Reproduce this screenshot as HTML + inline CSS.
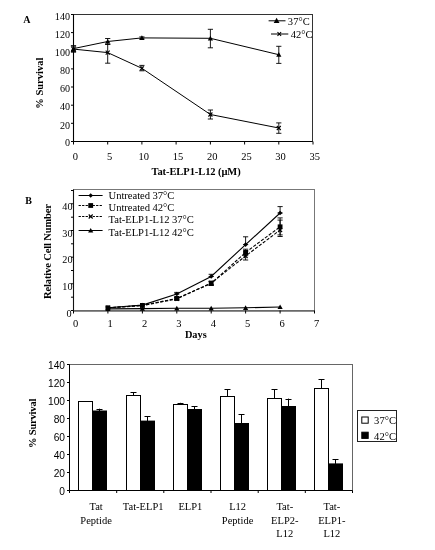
<!DOCTYPE html>
<html><head><meta charset="utf-8"><title>Figure</title>
<style>html,body{margin:0;padding:0;background:#fff}svg{display:block}text{fill:#000}.se{font-family:"Liberation Serif",serif}.sa{font-family:"Liberation Sans",sans-serif}</style>
</head><body>
<svg width="435" height="550" viewBox="0 0 435 550">
<rect width="435" height="550" fill="#fff"/>
<rect x="73.5" y="14.5" width="239.0" height="127.0" fill="none" stroke="#333" stroke-width="1"/>
<line x1="73.5" y1="14.5" x2="73.5" y2="141.5" stroke="#000" stroke-width="1.1"/>
<line x1="73.5" y1="141.5" x2="312.5" y2="141.5" stroke="#000" stroke-width="1.1"/>
<line x1="71.0" y1="141.5" x2="73.5" y2="141.5" stroke="#000" stroke-width="1"/>
 <text x="70.0" y="146.1" font-size="10.1" text-anchor="end" class="se">0</text>
<line x1="71.0" y1="123.3" x2="73.5" y2="123.3" stroke="#000" stroke-width="1"/>
 <text x="70.0" y="128.5" font-size="10.1" text-anchor="end" class="se">20</text>
<line x1="71.0" y1="105.2" x2="73.5" y2="105.2" stroke="#000" stroke-width="1"/>
 <text x="70.0" y="110.4" font-size="10.1" text-anchor="end" class="se">40</text>
<line x1="71.0" y1="87.0" x2="73.5" y2="87.0" stroke="#000" stroke-width="1"/>
 <text x="70.0" y="92.2" font-size="10.1" text-anchor="end" class="se">60</text>
<line x1="71.0" y1="68.9" x2="73.5" y2="68.9" stroke="#000" stroke-width="1"/>
 <text x="70.0" y="74.1" font-size="10.1" text-anchor="end" class="se">80</text>
<line x1="71.0" y1="50.8" x2="73.5" y2="50.8" stroke="#000" stroke-width="1"/>
 <text x="70.0" y="56.0" font-size="10.1" text-anchor="end" class="se">100</text>
<line x1="71.0" y1="32.6" x2="73.5" y2="32.6" stroke="#000" stroke-width="1"/>
 <text x="70.0" y="37.8" font-size="10.1" text-anchor="end" class="se">120</text>
<line x1="71.0" y1="14.5" x2="73.5" y2="14.5" stroke="#000" stroke-width="1"/>
 <text x="70.0" y="19.7" font-size="10.1" text-anchor="end" class="se">140</text>
<line x1="73.5" y1="141.5" x2="73.5" y2="144.5" stroke="#000" stroke-width="1"/>
 <text x="75.3" y="159.7" font-size="10.5" text-anchor="middle" class="se">0</text>
<line x1="107.7" y1="141.5" x2="107.7" y2="144.5" stroke="#000" stroke-width="1"/>
 <text x="109.5" y="159.7" font-size="10.5" text-anchor="middle" class="se">5</text>
<line x1="141.9" y1="141.5" x2="141.9" y2="144.5" stroke="#000" stroke-width="1"/>
 <text x="143.7" y="159.7" font-size="10.5" text-anchor="middle" class="se">10</text>
<line x1="176.1" y1="141.5" x2="176.1" y2="144.5" stroke="#000" stroke-width="1"/>
 <text x="177.9" y="159.7" font-size="10.5" text-anchor="middle" class="se">15</text>
<line x1="210.4" y1="141.5" x2="210.4" y2="144.5" stroke="#000" stroke-width="1"/>
 <text x="212.2" y="159.7" font-size="10.5" text-anchor="middle" class="se">20</text>
<line x1="244.6" y1="141.5" x2="244.6" y2="144.5" stroke="#000" stroke-width="1"/>
 <text x="246.4" y="159.7" font-size="10.5" text-anchor="middle" class="se">25</text>
<line x1="278.8" y1="141.5" x2="278.8" y2="144.5" stroke="#000" stroke-width="1"/>
 <text x="280.6" y="159.7" font-size="10.5" text-anchor="middle" class="se">30</text>
<line x1="313.0" y1="141.5" x2="313.0" y2="144.5" stroke="#000" stroke-width="1"/>
 <text x="314.8" y="159.7" font-size="10.5" text-anchor="middle" class="se">35</text>
<text x="196.1" y="174.8" font-size="10.5" textLength="89.2" font-weight="bold" text-anchor="middle" class="se">Tat-ELP1-L12 (µM)</text>
<text transform="translate(43.2,83.2) rotate(-90)" font-size="10.5" font-weight="bold" text-anchor="middle" class="se">% Survival</text>
<text x="23.3" y="23" font-size="10" font-weight="bold" class="se">A</text>
<polyline points="73.5,48.6 107.7,41.5 141.9,37.9 210.4,38.3 278.8,54.7" fill="none" stroke="#000" stroke-width="1"/>
<path d="M73.5 45.7V51.5M70.9 45.7H76.1M70.9 51.5H76.1" stroke="#000" stroke-width="0.9" fill="none"/>
<path d="M73.5 46.0L76.1 50.7H70.9Z" fill="#000"/>
<path d="M107.7 38.5V44.4M105.1 38.5H110.3M105.1 44.4H110.3" stroke="#000" stroke-width="0.9" fill="none"/>
<path d="M107.7 38.9L110.3 43.6H105.1Z" fill="#000"/>
<path d="M141.9 36.9V38.9M139.3 36.9H144.5M139.3 38.9H144.5" stroke="#000" stroke-width="0.9" fill="none"/>
<path d="M141.9 35.3L144.5 40.0H139.3Z" fill="#000"/>
<path d="M210.4 29.3V47.8M207.8 29.3H213.0M207.8 47.8H213.0" stroke="#000" stroke-width="0.9" fill="none"/>
<path d="M210.4 35.7L213.0 40.4H207.8Z" fill="#000"/>
<path d="M278.8 46.3V63.4M276.2 46.3H281.4M276.2 63.4H281.4" stroke="#000" stroke-width="0.9" fill="none"/>
<path d="M278.8 52.1L281.4 56.8H276.2Z" fill="#000"/>
<polyline points="73.5,49.1 107.7,52.6 141.9,68.3 210.4,114.5 278.8,128.0" fill="none" stroke="#000" stroke-width="1"/>
<path d="M73.5 46.2V52.2M70.9 46.2H76.1M70.9 52.2H76.1" stroke="#000" stroke-width="0.9" fill="none"/>
<path d="M71.5 47.1L75.5 51.1M71.5 51.1L75.5 47.1" stroke="#000" stroke-width="1.1" fill="none"/>
<path d="M107.7 44.2V63.2M105.1 44.2H110.3M105.1 63.2H110.3" stroke="#000" stroke-width="0.9" fill="none"/>
<path d="M105.7 50.6L109.7 54.6M105.7 54.6L109.7 50.6" stroke="#000" stroke-width="1.1" fill="none"/>
<path d="M141.9 65.4V70.8M139.3 65.4H144.5M139.3 70.8H144.5" stroke="#000" stroke-width="0.9" fill="none"/>
<path d="M139.9 66.3L143.9 70.3M139.9 70.3L143.9 66.3" stroke="#000" stroke-width="1.1" fill="none"/>
<path d="M210.4 110.0V119.0M207.8 110.0H213.0M207.8 119.0H213.0" stroke="#000" stroke-width="0.9" fill="none"/>
<path d="M208.4 112.5L212.4 116.5M208.4 116.5L212.4 112.5" stroke="#000" stroke-width="1.1" fill="none"/>
<path d="M278.8 122.9V133.3M276.2 122.9H281.4M276.2 133.3H281.4" stroke="#000" stroke-width="0.9" fill="none"/>
<path d="M276.8 126.0L280.8 130.0M276.8 130.0L280.8 126.0" stroke="#000" stroke-width="1.1" fill="none"/>
<line x1="268.6" y1="20.8" x2="285.5" y2="20.8" stroke="#000" stroke-width="1"/>
<path d="M276.6 17.7L279.5 22.9H273.7Z" fill="#000"/>
<line x1="271" y1="34.0" x2="288.3" y2="34.0" stroke="#000" stroke-width="1"/>
<path d="M277.5 32.2L281.1 35.8M277.5 35.8L281.1 32.2" stroke="#000" stroke-width="1.1" fill="none"/>
<text x="287.8" y="25.2" font-size="10.5" textLength="22" class="se">37°C</text>
<text x="290.8" y="38.0" font-size="10.5" textLength="21.8" class="se">42°C</text>
<rect x="73.5" y="189.5" width="241.0" height="121.0" fill="none" stroke="#777" stroke-width="1"/>
<line x1="73.5" y1="189.5" x2="73.5" y2="310.5" stroke="#111" stroke-width="1.1"/>
<line x1="73.5" y1="311.0" x2="314.5" y2="311.0" stroke="#666" stroke-width="1.7"/>
<line x1="71.0" y1="310.5" x2="73.5" y2="310.5" stroke="#000" stroke-width="1"/>
<text x="71.5" y="316.7" font-size="10.2" text-anchor="end" class="se">0</text>
<line x1="71.0" y1="297.2" x2="73.5" y2="297.2" stroke="#000" stroke-width="1"/>
<line x1="71.0" y1="283.8" x2="73.5" y2="283.8" stroke="#000" stroke-width="1"/>
<text x="72.5" y="290.0" font-size="10.2" text-anchor="end" class="se">10</text>
<line x1="71.0" y1="270.5" x2="73.5" y2="270.5" stroke="#000" stroke-width="1"/>
<line x1="71.0" y1="257.2" x2="73.5" y2="257.2" stroke="#000" stroke-width="1"/>
<text x="72.5" y="263.4" font-size="10.2" text-anchor="end" class="se">20</text>
<line x1="71.0" y1="243.8" x2="73.5" y2="243.8" stroke="#000" stroke-width="1"/>
<line x1="71.0" y1="230.5" x2="73.5" y2="230.5" stroke="#000" stroke-width="1"/>
<text x="72.5" y="236.7" font-size="10.2" text-anchor="end" class="se">30</text>
<line x1="71.0" y1="217.2" x2="73.5" y2="217.2" stroke="#000" stroke-width="1"/>
<line x1="71.0" y1="203.8" x2="73.5" y2="203.8" stroke="#000" stroke-width="1"/>
<text x="72.5" y="210.0" font-size="10.2" text-anchor="end" class="se">40</text>
<line x1="71.0" y1="190.5" x2="73.5" y2="190.5" stroke="#000" stroke-width="1"/>
<line x1="73.5" y1="310.5" x2="73.5" y2="313.5" stroke="#000" stroke-width="1"/>
 <text x="75.6" y="326.5" font-size="10.5" text-anchor="middle" class="se">0</text>
<line x1="107.9" y1="310.5" x2="107.9" y2="313.5" stroke="#000" stroke-width="1"/>
 <text x="110.0" y="326.5" font-size="10.5" text-anchor="middle" class="se">1</text>
<line x1="142.4" y1="310.5" x2="142.4" y2="313.5" stroke="#000" stroke-width="1"/>
 <text x="144.5" y="326.5" font-size="10.5" text-anchor="middle" class="se">2</text>
<line x1="176.8" y1="310.5" x2="176.8" y2="313.5" stroke="#000" stroke-width="1"/>
 <text x="178.9" y="326.5" font-size="10.5" text-anchor="middle" class="se">3</text>
<line x1="211.2" y1="310.5" x2="211.2" y2="313.5" stroke="#000" stroke-width="1"/>
 <text x="213.3" y="326.5" font-size="10.5" text-anchor="middle" class="se">4</text>
<line x1="245.6" y1="310.5" x2="245.6" y2="313.5" stroke="#000" stroke-width="1"/>
 <text x="247.7" y="326.5" font-size="10.5" text-anchor="middle" class="se">5</text>
<line x1="280.1" y1="310.5" x2="280.1" y2="313.5" stroke="#000" stroke-width="1"/>
 <text x="282.2" y="326.5" font-size="10.5" text-anchor="middle" class="se">6</text>
<line x1="314.5" y1="310.5" x2="314.5" y2="313.5" stroke="#000" stroke-width="1"/>
 <text x="316.6" y="326.5" font-size="10.5" text-anchor="middle" class="se">7</text>
<text x="195.8" y="337.6" font-size="10.3" font-weight="bold" text-anchor="middle" class="se">Days</text>
<text transform="translate(50.9,251.5) rotate(-90)" font-size="10.5" textLength="94.8" font-weight="bold" text-anchor="middle" class="se">Relative Cell Number</text>
<text x="25.3" y="203.9" font-size="10" font-weight="bold" class="se">B</text>
<polyline points="107.9,307.8 142.4,305.1 176.8,294.0 211.2,276.5 245.6,244.6 280.1,213.0" fill="none" stroke="#000" stroke-width="1.1"/>
<path d="M107.9 305.5L110.2 307.8L107.9 310.1L105.6 307.8Z" fill="#000"/>
<path d="M142.4 302.8L144.7 305.1L142.4 307.4L140.1 305.1Z" fill="#000"/>
<path d="M176.8 292.4V294.0M174.2 292.4H179.4M174.2 294.0H179.4" stroke="#000" stroke-width="0.9" fill="none"/>
<path d="M176.8 291.7L179.1 294.0L176.8 296.3L174.5 294.0Z" fill="#000"/>
<path d="M211.2 274.3V276.5M208.6 274.3H213.8M208.6 276.5H213.8" stroke="#000" stroke-width="0.9" fill="none"/>
<path d="M211.2 274.2L213.5 276.5L211.2 278.8L208.9 276.5Z" fill="#000"/>
<path d="M245.6 236.8V244.6M243.0 236.8H248.2M243.0 244.6H248.2" stroke="#000" stroke-width="0.9" fill="none"/>
<path d="M245.6 242.3L247.9 244.6L245.6 246.9L243.3 244.6Z" fill="#000"/>
<path d="M280.1 206.6V213.0M277.5 206.6H282.7M277.5 213.0H282.7" stroke="#000" stroke-width="0.9" fill="none"/>
<path d="M280.1 210.7L282.4 213.0L280.1 215.3L277.8 213.0Z" fill="#000"/>
<polyline points="107.9,307.8 142.4,305.4 176.8,298.4 211.2,283.5 245.6,252.4 280.1,226.8" fill="none" stroke="#000" stroke-width="1.1" stroke-dasharray="3.2 1.6"/>
<rect x="105.5" y="305.4" width="4.8" height="4.8" fill="#000"/>
<rect x="140.0" y="303.0" width="4.8" height="4.8" fill="#000"/>
<path d="M176.8 297.0V299.7M174.2 297.0H179.4M174.2 299.7H179.4" stroke="#000" stroke-width="0.9" fill="none"/>
<rect x="174.4" y="296.0" width="4.8" height="4.8" fill="#000"/>
<path d="M211.2 281.6V285.4M208.6 281.6H213.8M208.6 285.4H213.8" stroke="#000" stroke-width="0.9" fill="none"/>
<rect x="208.8" y="281.1" width="4.8" height="4.8" fill="#000"/>
<path d="M245.6 249.2V255.7M243.0 249.2H248.2M243.0 255.7H248.2" stroke="#000" stroke-width="0.9" fill="none"/>
<rect x="243.2" y="250.0" width="4.8" height="4.8" fill="#000"/>
<path d="M280.1 220.1V234.9M277.5 220.1H282.7M277.5 234.9H282.7" stroke="#000" stroke-width="0.9" fill="none"/>
<rect x="277.7" y="224.4" width="4.8" height="4.8" fill="#000"/>
<polyline points="107.9,307.8 142.4,305.6 176.8,298.9 211.2,283.0 245.6,256.0 280.1,230.0" fill="none" stroke="#000" stroke-width="1.1" stroke-dasharray="3.2 1.6"/>
<path d="M105.9 305.8L109.9 309.8M105.9 309.8L109.9 305.8" stroke="#000" stroke-width="1.1" fill="none"/>
<path d="M140.4 303.6L144.4 307.6M140.4 307.6L144.4 303.6" stroke="#000" stroke-width="1.1" fill="none"/>
<path d="M176.8 297.5V300.2M174.2 297.5H179.4M174.2 300.2H179.4" stroke="#000" stroke-width="0.9" fill="none"/>
<path d="M174.8 296.9L178.8 300.9M174.8 300.9L178.8 296.9" stroke="#000" stroke-width="1.1" fill="none"/>
<path d="M211.2 281.1V284.9M208.6 281.1H213.8M208.6 284.9H213.8" stroke="#000" stroke-width="0.9" fill="none"/>
<path d="M209.2 281.0L213.2 285.0M209.2 285.0L213.2 281.0" stroke="#000" stroke-width="1.1" fill="none"/>
<path d="M245.6 251.9V260.0M243.0 251.9H248.2M243.0 260.0H248.2" stroke="#000" stroke-width="0.9" fill="none"/>
<path d="M243.6 254.0L247.6 258.0M243.6 258.0L247.6 254.0" stroke="#000" stroke-width="1.1" fill="none"/>
<path d="M280.1 217.9V236.5M277.5 217.9H282.7M277.5 236.5H282.7" stroke="#000" stroke-width="0.9" fill="none"/>
<path d="M278.1 228.0L282.1 232.0M278.1 232.0L282.1 228.0" stroke="#000" stroke-width="1.1" fill="none"/>
<polyline points="107.9,308.9 142.4,308.6 176.8,308.3 211.2,308.3 245.6,307.8 280.1,307.0" fill="none" stroke="#000" stroke-width="1.1"/>
<path d="M107.9 306.3L110.5 311.0H105.3Z" fill="#000"/>
<path d="M142.4 306.0L145.0 310.7H139.8Z" fill="#000"/>
<path d="M176.8 305.7L179.4 310.4H174.2Z" fill="#000"/>
<path d="M211.2 305.7L213.8 310.4H208.6Z" fill="#000"/>
<path d="M245.6 305.2L248.2 309.9H243.0Z" fill="#000"/>
<path d="M280.1 304.4L282.7 309.1H277.5Z" fill="#000"/>
<line x1="78.6" y1="195.5" x2="102.6" y2="195.5" stroke="#000" stroke-width="1"/>
<path d="M90.7 193.2L93.0 195.5L90.7 197.8L88.4 195.5Z" fill="#000"/>
<text x="108.6" y="199.1" font-size="10.6" textLength="65.7" class="se">Untreated 37°C</text>
<line x1="78.6" y1="205.5" x2="102.6" y2="205.5" stroke="#000" stroke-width="1" stroke-dasharray="2.3 1.2"/>
<rect x="88.3" y="203.1" width="4.8" height="4.8" fill="#000"/>
<text x="108.6" y="211.1" font-size="10.6" textLength="65.7" class="se">Untreated 42°C</text>
<line x1="78.6" y1="216.5" x2="102.6" y2="216.5" stroke="#000" stroke-width="1" stroke-dasharray="2.3 1.2"/>
<path d="M88.7 214.5L92.7 218.5M88.7 218.5L92.7 214.5" stroke="#000" stroke-width="1.1" fill="none"/>
<text x="108.6" y="222.9" font-size="10.6" textLength="85.2" class="se">Tat-ELP1-L12 37°C</text>
<line x1="78.6" y1="230.5" x2="102.6" y2="230.5" stroke="#000" stroke-width="1"/>
<path d="M90.7 227.9L93.3 232.6H88.1Z" fill="#000"/>
<text x="108.6" y="235.8" font-size="10.6" textLength="85.2" class="se">Tat-ELP1-L12 42°C</text>
<rect x="69.5" y="364.5" width="283.0" height="126.0" fill="none" stroke="#666" stroke-width="1"/>
<line x1="69.5" y1="364.5" x2="69.5" y2="490.5" stroke="#000" stroke-width="1"/>
<line x1="67.0" y1="490.5" x2="69.5" y2="490.5" stroke="#000" stroke-width="1"/>
 <text x="65.0" y="494.8" font-size="10.2" text-anchor="end" class="sa">0</text>
<line x1="67.0" y1="472.5" x2="69.5" y2="472.5" stroke="#000" stroke-width="1"/>
 <text x="65.0" y="476.8" font-size="10.2" text-anchor="end" class="sa">20</text>
<line x1="67.0" y1="454.5" x2="69.5" y2="454.5" stroke="#000" stroke-width="1"/>
 <text x="65.0" y="458.8" font-size="10.2" text-anchor="end" class="sa">40</text>
<line x1="67.0" y1="436.5" x2="69.5" y2="436.5" stroke="#000" stroke-width="1"/>
 <text x="65.0" y="440.8" font-size="10.2" text-anchor="end" class="sa">60</text>
<line x1="67.0" y1="418.5" x2="69.5" y2="418.5" stroke="#000" stroke-width="1"/>
 <text x="65.0" y="422.8" font-size="10.2" text-anchor="end" class="sa">80</text>
<line x1="67.0" y1="400.5" x2="69.5" y2="400.5" stroke="#000" stroke-width="1"/>
 <text x="65.0" y="404.8" font-size="10.2" text-anchor="end" class="sa">100</text>
<line x1="67.0" y1="382.5" x2="69.5" y2="382.5" stroke="#000" stroke-width="1"/>
 <text x="65.0" y="386.8" font-size="10.2" text-anchor="end" class="sa">120</text>
<line x1="67.0" y1="364.5" x2="69.5" y2="364.5" stroke="#000" stroke-width="1"/>
 <text x="65.0" y="368.8" font-size="10.2" text-anchor="end" class="sa">140</text>
<rect x="78.5" y="401.5" width="14" height="89.0" fill="#fff" stroke="#000" stroke-width="1"/>
<rect x="93.0" y="410.5" width="14" height="80.0" fill="#000"/>
<path d="M85.5 401.8V401.0M82.5 401.5H88.5" stroke="#000" stroke-width="1" fill="none"/>
<path d="M99.5 411.0V408.7M96.5 409.5H102.5" stroke="#000" stroke-width="1" fill="none"/>
 <text x="96.1" y="509.9" font-size="10.5" text-anchor="middle" class="se">Tat</text>
 <text x="96.1" y="523.5" font-size="10.5" text-anchor="middle" class="se">Peptide</text>
<rect x="126.5" y="395.5" width="14" height="95.0" fill="#fff" stroke="#000" stroke-width="1"/>
<rect x="141.0" y="420.6" width="14" height="69.9" fill="#000"/>
<path d="M133.5 395.7V392.1M130.5 392.5H136.5" stroke="#000" stroke-width="1" fill="none"/>
<path d="M147.5 421.1V416.0M144.5 416.5H150.5" stroke="#000" stroke-width="1" fill="none"/>
 <text x="143.2" y="509.9" font-size="10.5" text-anchor="middle" class="se">Tat-ELP1</text>
<rect x="173.5" y="404.5" width="14" height="86.0" fill="#fff" stroke="#000" stroke-width="1"/>
<rect x="188.0" y="409.0" width="14" height="81.5" fill="#000"/>
<path d="M180.5 405.0V402.8M177.5 403.5H183.5" stroke="#000" stroke-width="1" fill="none"/>
<path d="M194.5 409.5V406.4M191.5 406.5H197.5" stroke="#000" stroke-width="1" fill="none"/>
 <text x="190.4" y="509.9" font-size="10.5" text-anchor="middle" class="se">ELP1</text>
<rect x="220.5" y="396.5" width="14" height="94.0" fill="#fff" stroke="#000" stroke-width="1"/>
<rect x="235.0" y="423.0" width="14" height="67.5" fill="#000"/>
<path d="M227.5 396.9V389.4M224.5 389.5H230.5" stroke="#000" stroke-width="1" fill="none"/>
<path d="M241.5 423.5V414.0M238.5 414.5H244.5" stroke="#000" stroke-width="1" fill="none"/>
 <text x="237.6" y="509.9" font-size="10.5" text-anchor="middle" class="se">L12</text>
 <text x="237.6" y="523.5" font-size="10.5" text-anchor="middle" class="se">Peptide</text>
<rect x="267.5" y="398.5" width="14" height="92.0" fill="#fff" stroke="#000" stroke-width="1"/>
<rect x="282.0" y="406.0" width="14" height="84.5" fill="#000"/>
<path d="M274.5 398.1V389.4M271.5 389.5H277.5" stroke="#000" stroke-width="1" fill="none"/>
<path d="M288.5 406.5V398.6M285.5 399.5H291.5" stroke="#000" stroke-width="1" fill="none"/>
 <text x="284.8" y="509.9" font-size="10.5" text-anchor="middle" class="se">Tat-</text>
 <text x="284.8" y="523.5" font-size="10.5" text-anchor="middle" class="se">ELP2-</text>
 <text x="284.8" y="537.1" font-size="10.5" text-anchor="middle" class="se">L12</text>
<rect x="314.5" y="388.5" width="14" height="102.0" fill="#fff" stroke="#000" stroke-width="1"/>
<rect x="329.0" y="463.4" width="14" height="27.1" fill="#000"/>
<path d="M321.5 388.3V379.0M318.5 379.5H324.5" stroke="#000" stroke-width="1" fill="none"/>
<path d="M335.5 463.9V459.4M332.5 459.5H338.5" stroke="#000" stroke-width="1" fill="none"/>
 <text x="331.9" y="509.9" font-size="10.5" text-anchor="middle" class="se">Tat-</text>
 <text x="331.9" y="523.5" font-size="10.5" text-anchor="middle" class="se">ELP1-</text>
 <text x="331.9" y="537.1" font-size="10.5" text-anchor="middle" class="se">L12</text>
<line x1="69.5" y1="490.5" x2="352.5" y2="490.5" stroke="#000" stroke-width="1.2"/>
<line x1="69.5" y1="490.5" x2="69.5" y2="493.0" stroke="#000" stroke-width="1"/>
<line x1="116.7" y1="490.5" x2="116.7" y2="493.0" stroke="#000" stroke-width="1"/>
<line x1="163.8" y1="490.5" x2="163.8" y2="493.0" stroke="#000" stroke-width="1"/>
<line x1="211.0" y1="490.5" x2="211.0" y2="493.0" stroke="#000" stroke-width="1"/>
<line x1="258.2" y1="490.5" x2="258.2" y2="493.0" stroke="#000" stroke-width="1"/>
<line x1="305.3" y1="490.5" x2="305.3" y2="493.0" stroke="#000" stroke-width="1"/>
<line x1="352.5" y1="490.5" x2="352.5" y2="493.0" stroke="#000" stroke-width="1"/>
<text transform="translate(36.3,423.3) rotate(-90)" font-size="10.5" textLength="49.4" font-weight="bold" text-anchor="middle" class="se">% Survival</text>
<rect x="357.5" y="410.5" width="39" height="31" fill="#fff" stroke="#222" stroke-width="1"/>
<rect x="361.8" y="417" width="6.4" height="6.2" fill="#fff" stroke="#000" stroke-width="1"/>
<rect x="361.8" y="432.2" width="6.4" height="6.2" fill="#000" stroke="#000" stroke-width="1"/>
<text x="374.1" y="424.4" font-size="10.5" textLength="22" class="se">37°C</text>
<text x="374.1" y="439.7" font-size="10.5" textLength="22" class="se">42°C</text>
</svg>
</body></html>
